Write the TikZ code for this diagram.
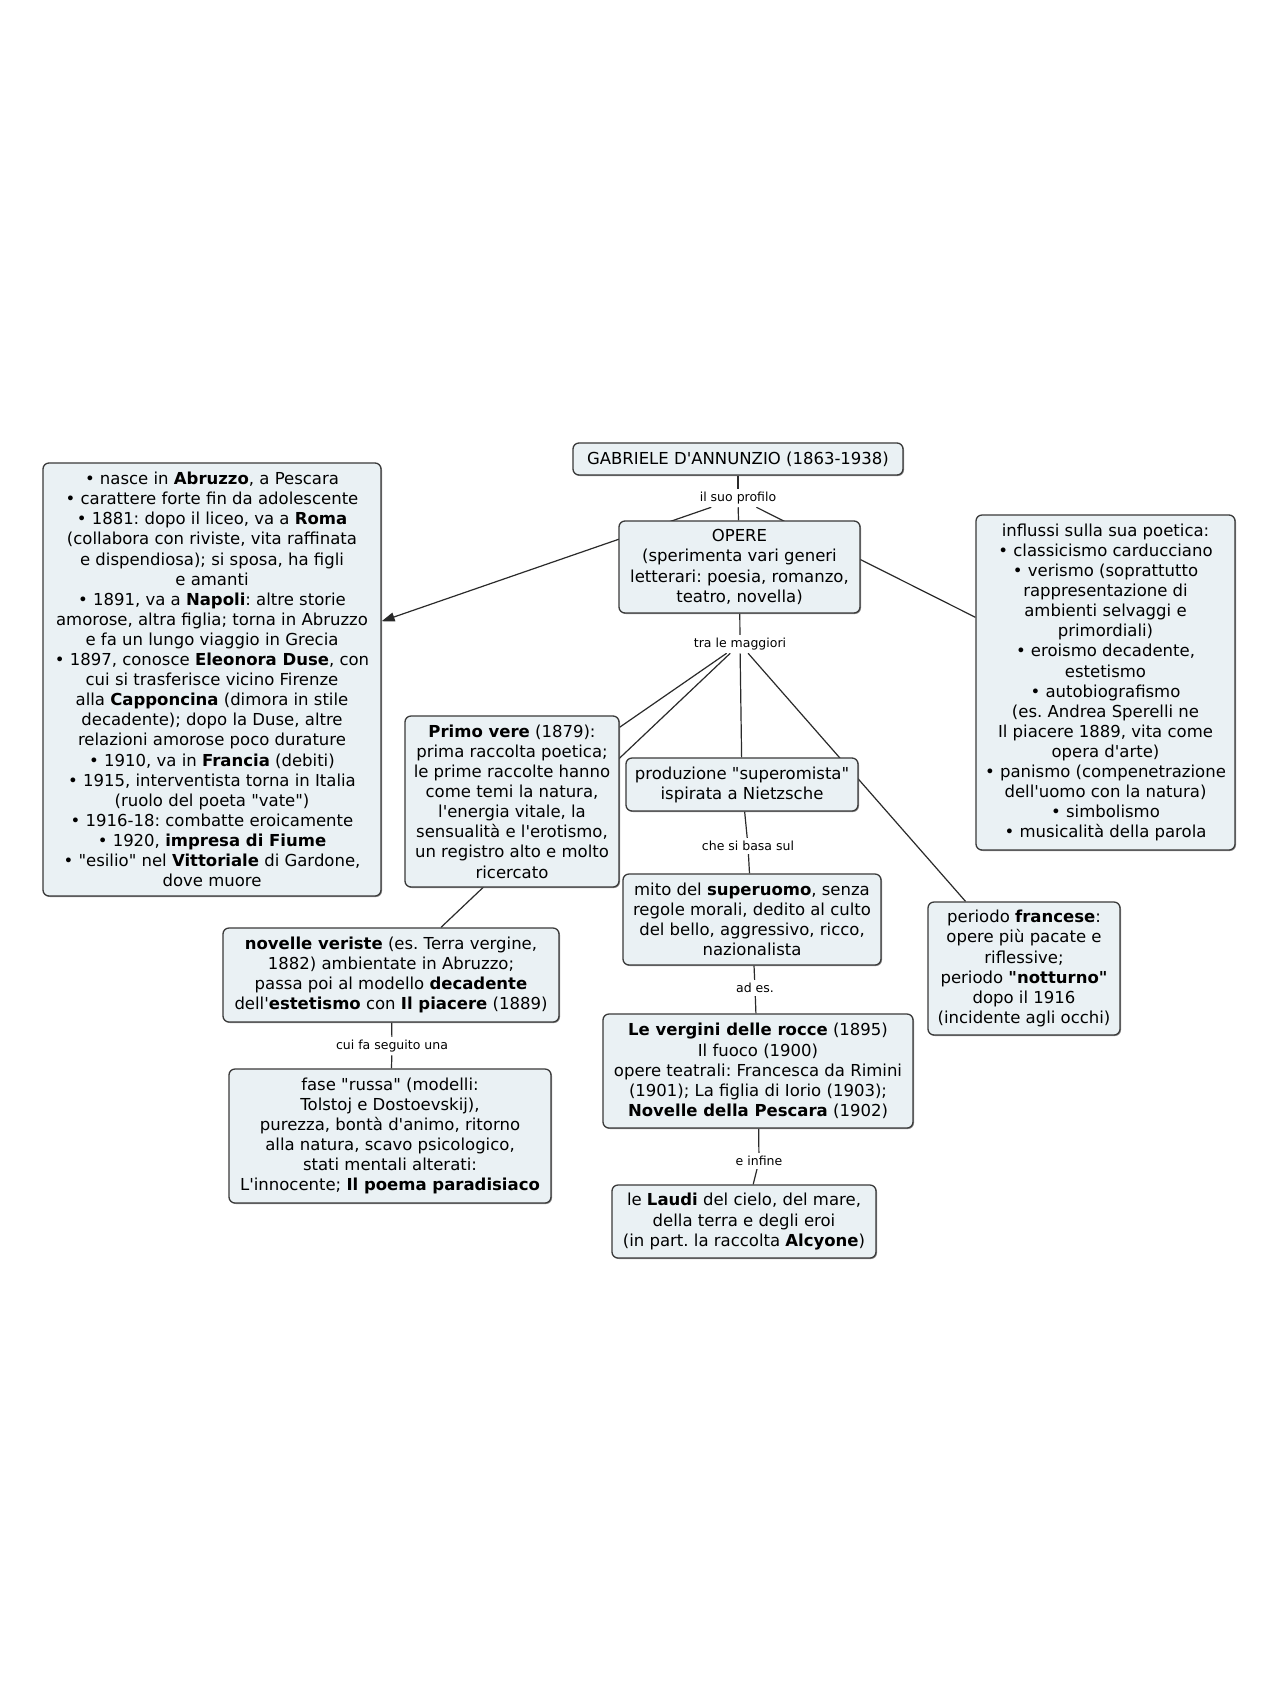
\documentclass[tikz,border=0pt]{standalone}
\usepackage{fontspec}
\newfontfamily\vfont{DejaVu Sans}
\usetikzlibrary{arrows.meta,shadows}
\pgfdeclarelayer{bg}
\pgfdeclarelayer{lines}
\pgfsetlayers{bg,lines,main}
\definecolor{boxfill}{HTML}{EAF1F4}
\definecolor{boxline}{HTML}{3A3A3A}
\definecolor{connc}{HTML}{2A2A2A}
\begin{document}
\frenchspacing
\begin{tikzpicture}[x=1pt,y=-1pt,
  concept/.style={draw=boxline, line width=1.3pt, fill=boxfill, rounded corners=6pt,
    inner sep=0pt, align=center, font=\vfont\frenchspacing\fontsize{16.5}{20.1}\selectfont,
    drop shadow={shadow xshift=1pt, shadow yshift=-1pt, fill=black!70, opacity=0.6}},
  lbl/.style={inner xsep=3pt, inner ysep=3pt, fill=white, font=\vfont\frenchspacing\fontsize{12.5}{15}\selectfont},
  connector/.style={draw=connc, line width=1.2pt}
]
\useasboundingbox (0,0) rectangle (1280,1701);
\begin{pgfonlayer}{bg}
\fill[white] (0,0) rectangle (1280,1701);
\end{pgfonlayer}

% concepts
\node[concept, minimum width=330pt, minimum height=32pt] (gab) at (738,459)
  {GABRIELE D'ANNUNZIO (1863-1938)};
\node[concept, minimum width=241pt, minimum height=92pt] (opere) at (739.5,567)
  {OPERE\\(sperimenta vari generi\\letterari: poesia, romanzo,\\teatro, novella)};
\node[concept, minimum width=338pt, minimum height=433pt] (bio) at (212,679.5)
  {• nasce in \textbf{Abruzzo}, a Pescara\\
   • carattere forte fin da adolescente\\
   • 1881: dopo il liceo, va a \textbf{Roma}\\
   (collabora con riviste, vita raffinata\\
   e dispendiosa); si sposa, ha figli\\
   e amanti\\
   • 1891, va a \textbf{Napoli}: altre storie\\
   amorose, altra figlia; torna in Abruzzo\\
   e fa un lungo viaggio in Grecia\\
   • 1897, conosce \textbf{Eleonora Duse}, con\\
   cui si trasferisce vicino Firenze\\
   alla \textbf{Capponcina} (dimora in stile\\
   decadente); dopo la Duse, altre\\
   relazioni amorose poco durature\\
   • 1910, va in \textbf{Francia} (debiti)\\
   • 1915, interventista torna in Italia\\
   (ruolo del poeta "vate")\\
   • 1916-18: combatte eroicamente\\
   • 1920, \textbf{impresa di Fiume}\\
   • "esilio" nel \textbf{Vittoriale} di Gardone,\\
   dove muore};
\node[concept, minimum width=259pt, minimum height=335pt] (infl) at (1105.5,682.5)
  {influssi sulla sua poetica:\\
   • classicismo carducciano\\
   • verismo (soprattutto\\
   rappresentazione di\\
   ambienti selvaggi e\\
   primordiali)\\
   • eroismo decadente,\\
   estetismo\\
   • autobiografismo\\
   (es. Andrea Sperelli ne\\
   Il piacere 1889, vita come\\
   opera d'arte)\\
   • panismo (compenetrazione\\
   dell'uomo con la natura)\\
   • simbolismo\\
   • musicalità della parola};
\node[concept, minimum width=214pt, minimum height=171pt] (primo) at (512,801.5)
  {\textbf{Primo vere} (1879):\\prima raccolta poetica;\\le prime raccolte hanno\\come temi la natura,\\l'energia vitale, la\\sensualità e l'erotismo,\\un registro alto e molto\\ricercato};
\node[concept, minimum width=232pt, minimum height=53pt] (prod) at (742,784.5)
  {produzione "superomista"\\ispirata a Nietzsche};
\node[concept, minimum width=258pt, minimum height=91pt] (mito) at (752,919.5)
  {mito del \textbf{superuomo}, senza\\regole morali, dedito al culto\\del bello, aggressivo, ricco,\\nazionalista};
\node[concept, minimum width=310pt, minimum height=114pt] (verg) at (758,1071)
  {\textbf{Le vergini delle rocce} (1895)\\Il fuoco (1900)\\opere teatrali: Francesca da Rimini\\(1901); La figlia di Iorio (1903);\\\textbf{Novelle della Pescara} (1902)};
\node[concept, minimum width=264pt, minimum height=73pt] (laudi) at (744,1221.5)
  {le \textbf{Laudi} del cielo, del mare,\\della terra e degli eroi\\(in part. la raccolta \textbf{Alcyone})};
\node[concept, minimum width=192pt, minimum height=133pt] (franc) at (1024,968.5)
  {periodo \textbf{francese}:\\opere più pacate e\\riflessive;\\periodo \textbf{"notturno"}\\dopo il 1916\\(incidente agli occhi)};
\node[concept, minimum width=336pt, minimum height=94pt] (nov) at (391,975)
  {\textbf{novelle veriste} (es. Terra vergine,\\1882) ambientate in Abruzzo;\\passa poi al modello \textbf{decadente}\\dell'\textbf{estetismo} con \textbf{Il piacere} (1889)};
\node[concept, minimum width=322pt, minimum height=134pt] (russa) at (390,1136)
  {fase "russa" (modelli:\\Tolstoj e Dostoevskij),\\purezza, bontà d'animo, ritorno\\alla natura, scavo psicologico,\\stati mentali alterati:\\L'innocente; \textbf{Il poema paradisiaco}};

% linking phrases
\node[lbl] (l1) at (738,498) {il suo profilo};
\node[lbl] (l2) at (740,644) {tra le maggiori};
\node[lbl] (l3) at (748,846) {che si basa sul};
\node[lbl] (l4) at (755,988) {ad es.};
\node[lbl] (l5) at (759,1161) {e infine};
\node[lbl] (l6) at (392,1046) {cui fa seguito una};

% connectors
\begin{pgfonlayer}{lines}
\draw[connector] (gab) -- (l1);
\draw[connector] (l1) -- (opere);
\draw[connector, -{Triangle[length=13pt,width=9pt]}] (l1) -- (bio);
\draw[connector] (l1) -- (infl);
\draw[connector] (opere) -- (l2);
\draw[connector] (l2) -- (primo);
\draw[connector] (l2) -- (nov);
\draw[connector] (l2) -- (prod);
\draw[connector] (l2) -- (franc);
\draw[connector] (prod) -- (l3);
\draw[connector] (l3) -- (mito);
\draw[connector] (mito) -- (l4);
\draw[connector] (l4) -- (verg);
\draw[connector] (verg) -- (l5);
\draw[connector] (l5) -- (laudi);
\draw[connector] (nov) -- (l6);
\draw[connector] (l6) -- (russa);
\end{pgfonlayer}
\end{tikzpicture}
\end{document}
